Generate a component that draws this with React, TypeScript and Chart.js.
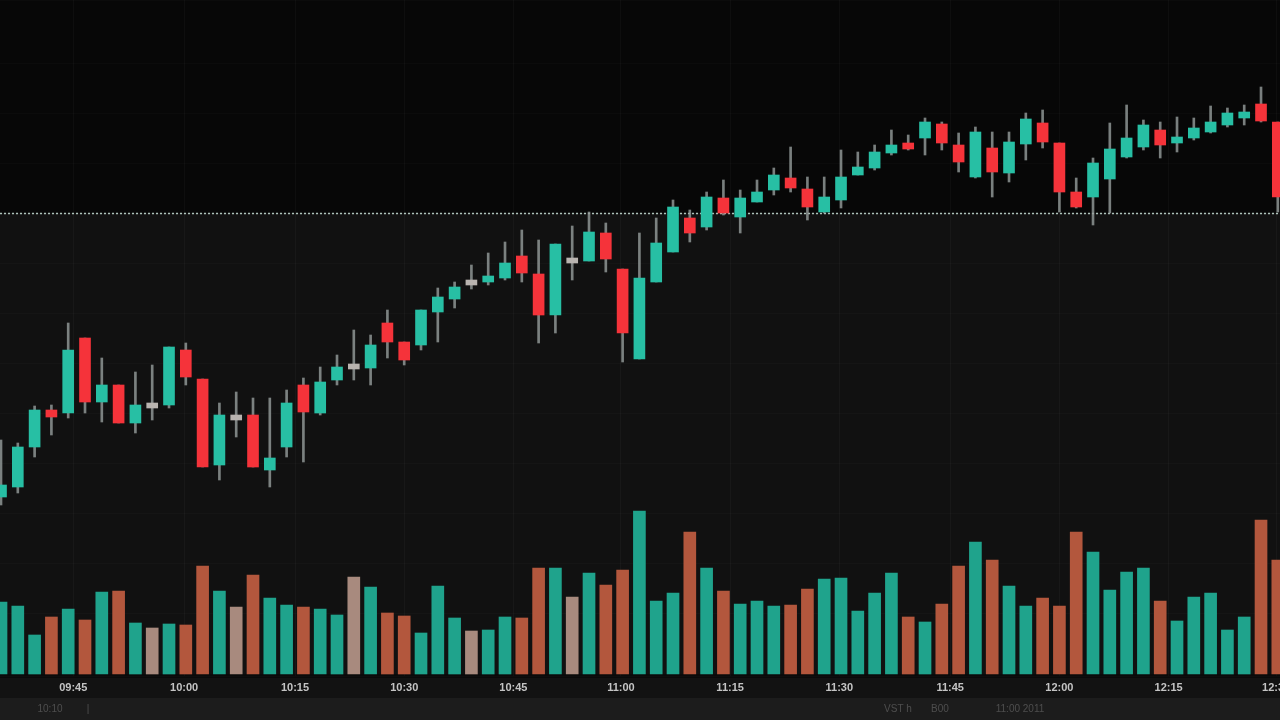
import React, { useEffect, useRef } from "react";
import { Chart, registerables } from "chart.js";

Chart.register(...registerables);

// ---- data (price candles, 77 sessions) ----
const OPEN = [121.6, 122.6, 126.6, 130.3, 130.0, 137.5, 131.1, 132.8, 129.0, 130.5, 130.8, 136.3, 133.4, 124.8, 129.3, 129.8, 124.3, 126.6, 132.8, 130.0, 133.3, 134.4, 134.5, 139.0, 137.1, 136.8, 140.1, 141.4, 142.8, 143.1, 143.5, 145.7, 143.9, 139.8, 145.0, 145.2, 148.0, 144.4, 135.4, 143.1, 146.1, 149.5, 148.6, 151.5, 149.6, 151.1, 152.3, 153.5, 152.4, 150.1, 151.3, 153.8, 154.5, 156.0, 157.0, 157.5, 158.9, 156.8, 153.6, 156.5, 154.0, 156.9, 159.0, 157.0, 152.1, 151.6, 153.4, 155.6, 156.6, 158.3, 157.0, 157.5, 158.1, 158.8, 159.5, 160.9, 159.1];
const HIGH = [127.3, 127.0, 130.7, 130.8, 139.0, 137.5, 135.5, 132.8, 134.1, 134.8, 136.6, 137.0, 133.4, 131.0, 132.1, 131.5, 131.5, 132.3, 133.5, 134.6, 135.8, 138.3, 137.8, 140.3, 137.1, 140.3, 142.5, 143.1, 144.8, 146.0, 147.1, 148.3, 147.3, 146.9, 148.7, 150.1, 149.0, 144.4, 148.0, 149.5, 151.3, 150.3, 152.1, 153.3, 152.3, 153.3, 154.5, 156.6, 153.6, 153.6, 156.3, 156.1, 156.8, 158.3, 157.8, 159.5, 159.1, 158.0, 158.6, 158.1, 158.1, 160.0, 160.3, 157.0, 153.5, 155.5, 159.0, 160.8, 159.3, 159.1, 159.6, 159.5, 160.7, 160.5, 160.8, 162.6, 159.1];
const LOW = [120.8, 122.0, 125.6, 127.8, 129.5, 130.0, 129.1, 129.0, 128.0, 129.3, 130.5, 132.8, 124.6, 123.3, 127.6, 124.6, 122.6, 125.6, 125.1, 129.8, 132.8, 133.3, 132.8, 135.5, 134.8, 136.3, 137.1, 140.5, 142.4, 142.8, 143.3, 143.1, 137.0, 138.0, 143.3, 145.2, 144.1, 135.1, 135.4, 143.1, 146.1, 147.1, 148.3, 149.8, 148.0, 151.1, 151.8, 152.1, 149.3, 150.0, 150.5, 153.8, 154.3, 155.8, 156.3, 155.8, 156.3, 154.1, 153.5, 151.6, 153.1, 155.3, 156.5, 150.1, 150.5, 148.8, 150.0, 155.5, 156.3, 155.5, 156.1, 157.3, 158.0, 158.6, 158.8, 159.1, 150.1];
const CLOSE = [122.8, 126.6, 130.3, 129.6, 136.3, 131.1, 132.8, 129.0, 130.8, 131.0, 136.6, 133.6, 124.6, 129.8, 129.8, 124.6, 125.5, 131.0, 130.1, 133.1, 134.6, 134.9, 136.8, 137.1, 135.3, 140.3, 141.6, 142.6, 143.3, 143.7, 145.0, 144.0, 139.8, 146.9, 145.5, 148.1, 145.4, 138.0, 143.5, 147.0, 150.6, 148.0, 151.6, 150.0, 151.5, 152.1, 153.8, 152.5, 150.6, 151.6, 153.6, 154.6, 156.1, 156.8, 156.4, 159.1, 157.0, 155.1, 158.1, 154.1, 157.1, 159.4, 157.1, 152.1, 150.6, 155.0, 156.4, 157.5, 158.8, 156.8, 157.6, 158.5, 159.1, 160.0, 160.1, 159.2, 151.6];
const VOLUME = [3600, 3400, 1950, 2850, 3250, 2700, 4100, 4150, 2550, 2300, 2500, 2450, 5400, 4150, 3350, 4950, 3800, 3450, 3350, 3250, 2950, 4850, 4350, 3050, 2900, 2050, 4400, 2800, 2150, 2200, 2850, 2800, 5300, 5300, 3850, 5050, 4450, 5200, 8150, 3650, 4050, 7100, 5300, 4150, 3500, 3650, 3400, 3450, 4250, 4750, 4800, 3150, 4050, 5050, 2850, 2600, 3500, 5400, 6600, 5700, 4400, 3400, 3800, 3400, 7100, 6100, 4200, 5100, 5300, 3650, 2650, 3850, 4050, 2200, 2850, 7700, 5700];
const RESISTANCE = 150.0;
const TICK_POSITIONS = [4.3, 10.9, 17.5, 24.0, 30.5, 36.9, 43.4, 49.9, 56.5, 63.0, 69.5, 75.9];
const TICK_LABELS = ["09:45", "10:00", "10:15", "10:30", "10:45", "11:00", "11:15", "11:30", "11:45", "12:00", "12:15", "12:30"];
const FOOTER_LEFT = ["10:10", "|"];
const FOOTER_RIGHT = ["VST h", "B00", "11:00 2011"];

const UP = "#27bfa4";
const DOWN = "#f5333a";
const DOJI = "#b9b4b0";
const VOL_UP = "#1fa38c";
const VOL_DOWN = "#b3573d";
const VOL_DOJI = "#a88a7e";

const kind = (i: number) => {
  const d = CLOSE[i] - OPEN[i];
  if (Math.abs(d) < 0.55) return 0;
  return d > 0 ? 1 : -1;
};

const backgroundPlugin = {
  id: "bgBands",
  beforeDraw(chart: any) {
    const { ctx, width, height, chartArea, scales } = chart;
    const lvl = scales.y.getPixelForValue(RESISTANCE);
    ctx.save();
    ctx.fillStyle = "#111111";
    ctx.fillRect(0, 0, width, height);
    ctx.fillStyle = "#070707";
    ctx.fillRect(0, 0, width, lvl);
    ctx.fillStyle = "#0a0a0a";
    ctx.fillRect(0, chartArea.bottom - 2, width, 4);
    ctx.fillStyle = "#121212";
    ctx.fillRect(0, chartArea.bottom + 2, width, 20);
    ctx.fillStyle = "#1c1c1c";
    ctx.fillRect(0, chartArea.bottom + 22, width, height - chartArea.bottom - 22);
    ctx.restore();
  },
  beforeDatasetsDraw(chart: any) {
    const { ctx, chartArea, scales } = chart;
    const lvl = Math.round(scales.y.getPixelForValue(RESISTANCE)) + 0.5;
    ctx.save();
    ctx.strokeStyle = "rgba(200,225,215,0.85)";
    ctx.lineWidth = 1.5;
    ctx.setLineDash([2, 2]);
    ctx.beginPath();
    ctx.moveTo(chartArea.left, lvl);
    ctx.lineTo(chartArea.right, lvl);
    ctx.stroke();
    ctx.restore();
  },
  afterDraw(chart: any) {
    const { ctx, height } = chart;
    ctx.save();
    ctx.fillStyle = "rgba(170,170,170,0.35)";
    ctx.font = "10px 'Liberation Sans', sans-serif";
    ctx.textBaseline = "middle";
    ctx.textAlign = "center";
    const y = height - 11;
    ctx.fillText(FOOTER_LEFT[0], 50, y);
    ctx.fillText(FOOTER_LEFT[1], 88, y);
    ctx.fillText(FOOTER_RIGHT[0], 898, y);
    ctx.fillText(FOOTER_RIGHT[1], 940, y);
    ctx.fillText(FOOTER_RIGHT[2], 1020, y);
    ctx.restore();
  },
};

export default function App() {
  const ref = useRef<HTMLCanvasElement | null>(null);

  useEffect(() => {
    if (!ref.current) return;
    const idx = OPEN.map((_, i) => i);
    const chart = new Chart(ref.current, {
      type: "bar",
      data: {
        datasets: [
          {
            label: "Bodies",
            data: idx.map((i) => ({ x: i, y: [OPEN[i], CLOSE[i]] })) as any,
            backgroundColor: (c: any) => {
              const k = kind(c.dataIndex);
              return k === 0 ? DOJI : k > 0 ? UP : DOWN;
            },
            barThickness: 11,
            grouped: false,
            borderSkipped: false,
            borderWidth: 0,
            yAxisID: "y",
            order: 1,
          },
          {
            label: "Wicks",
            data: idx.map((i) => ({ x: i, y: [LOW[i], HIGH[i]] })) as any,
            backgroundColor: "rgba(150,158,156,0.8)",
            barThickness: 2,
            grouped: false,
            borderSkipped: false,
            borderWidth: 0,
            yAxisID: "y",
            order: 2,
          },
          {
            label: "Volume",
            data: idx.map((i) => ({ x: i, y: VOLUME[i] })) as any,
            backgroundColor: (c: any) => {
              const k = kind(c.dataIndex);
              return k === 0 ? VOL_DOJI : k > 0 ? VOL_UP : VOL_DOWN;
            },
            barThickness: 12,
            grouped: false,
            borderSkipped: false,
            borderWidth: 0,
            yAxisID: "y2",
            order: 3,
          },
        ],
      },
      options: {
        responsive: false,
        animation: false,
        maintainAspectRatio: false,
        layout: { padding: 0 },
        plugins: {
          legend: { display: false },
          tooltip: { enabled: false },
          title: { display: false },
        },
        scales: {
          x: {
            type: "linear",
            offset: false,
            bounds: "ticks",
            min: -0.06,
            max: 76.13,
            afterBuildTicks: (scale: any) => {
              scale.ticks = TICK_POSITIONS.map((v) => ({ value: v }));
            },
            afterFit: (scale: any) => {
              scale.height = 44;
              scale.paddingLeft = 0;
              scale.paddingRight = 0;
            },
            ticks: {
              autoSkip: false,
              maxRotation: 0,
              minRotation: 0,
              padding: 5,
              color: "#c4c4c4",
              font: { family: "'Liberation Sans', sans-serif", size: 11, weight: "bold" },
              callback: (_v: any, i: number) => TICK_LABELS[i],
            },
            grid: { color: "rgba(255,255,255,0.03)", drawTicks: false, offset: false },
            border: { display: false },
          },
          y: {
            type: "linear",
            position: "right",
            min: 103.7,
            max: 171.3,
            ticks: { display: false, stepSize: 5 },
            grid: { color: "rgba(255,255,255,0.018)", drawTicks: false },
            border: { display: false },
            afterFit: (scale: any) => {
              scale.width = 0;
            },
          },
          y2: {
            type: "linear",
            display: false,
            min: -100,
            max: 33700,
          },
        },
      } as any,
      plugins: [backgroundPlugin],
    });
    return () => chart.destroy();
  }, []);

  return (
    <div style={{ position: "fixed", left: 0, top: 0, width: 1280, height: 720, background: "#111" }}>
      <canvas ref={ref} width={1280} height={720} style={{ display: "block" }} />
    </div>
  );
}
